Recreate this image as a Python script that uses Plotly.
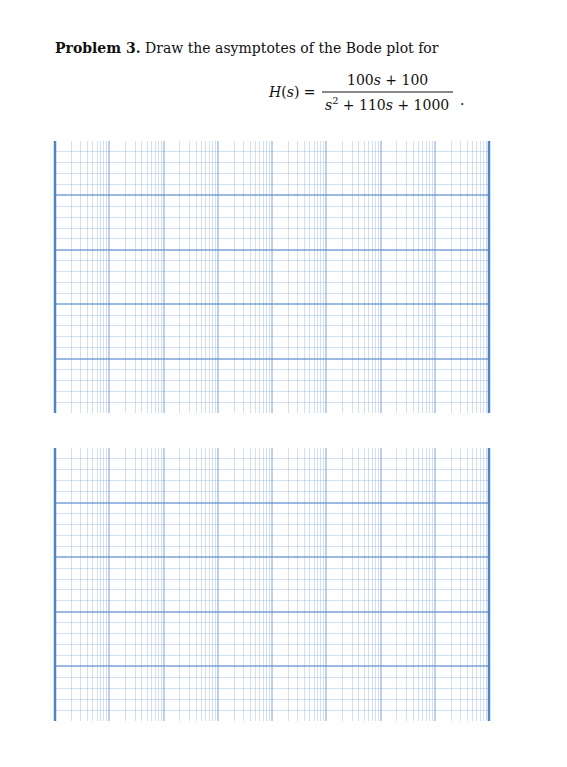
import plotly.graph_objects as go
from plotly.subplots import make_subplots

decades = [1, 1e8]          # 8 decades of frequency
y_range = [0, 5]            # 5 major divisions
y_major = 1
y_minor = 0.2

W, H = 567, 767
O = 8  # page body margin offset
L, R = 55 - O, 489 - O
fig = make_subplots(rows=2, cols=1, vertical_spacing=0.05)
grid_minor = "rgba(120,160,215,0.33)"
grid_xmajor = "rgba(110,150,210,0.45)"
grid_ymajor = "rgba(90,140,205,0.6)"
for r in (1, 2):
    fig.add_trace(go.Scatter(x=decades, y=y_range, mode="markers",
                             marker=dict(opacity=0), hoverinfo="skip",
                             showlegend=False), row=r, col=1)
    fig.update_xaxes(type="log", range=[0, 8], dtick=1, showticklabels=False,
                     showgrid=True, gridcolor=grid_xmajor, gridwidth=1.5,
                     minor=dict(dtick="D1", showgrid=True, gridcolor=grid_minor, gridwidth=1),
                     showline=False, zeroline=False, row=r, col=1)
    fig.update_yaxes(range=y_range, dtick=y_major, showticklabels=False,
                     showgrid=True, gridcolor=grid_ymajor, gridwidth=1.5,
                     minor=dict(dtick=y_minor, showgrid=True, gridcolor=grid_minor, gridwidth=1),
                     showline=False, zeroline=False, row=r, col=1)

def px(x): return (x - O) / W
def py(y): return 1 - (y - O) / H

font = dict(family="DejaVu Serif, Liberation Serif, serif", size=14, color="#111")
fig.add_annotation(x=px(53), y=py(48), xref="paper", yref="paper", xanchor="left", yanchor="middle",
                   text="<b>Problem 3.</b> Draw the asymptotes of the Bode plot for",
                   showarrow=False, font=font)
fig.add_annotation(x=px(318), y=py(92), xref="paper", yref="paper", xanchor="right", yanchor="middle",
                   text="<i>H</i>(<i>s</i>) =", showarrow=False, font=font)
fig.add_annotation(x=px(387), y=py(80), xref="paper", yref="paper", xanchor="center", yanchor="middle",
                   text="100<i>s</i> + 100", showarrow=False, font=font)
fig.add_annotation(x=px(387), y=py(104), xref="paper", yref="paper", xanchor="center", yanchor="middle",
                   text="<i>s</i><sup>2</sup> + 110<i>s</i> + 1000", showarrow=False, font=font)
fig.add_annotation(x=px(458), y=py(100), xref="paper", yref="paper", xanchor="left", yanchor="middle",
                   text=".", showarrow=False, font=font)
fig.add_shape(type="line", xref="paper", yref="paper", x0=px(322), x1=px(453),
              y0=py(92), y1=py(92), line=dict(color="#111", width=1))
for (y0, y1) in ((141, 413), (448, 721)):
    for x in (55, 489):
        fig.add_shape(type="line", xref="paper", yref="paper", x0=px(x), x1=px(x),
                      y0=py(y0), y1=py(y1), line=dict(color="#4f86c6", width=2.5))

fig.update_layout(width=W, height=H, margin=dict(l=0, r=0, t=0, b=0),
                  plot_bgcolor="white", paper_bgcolor="white")
fig.update_layout(xaxis=dict(domain=[px(55), px(489)]), xaxis2=dict(domain=[px(55), px(489)]),
                  yaxis=dict(domain=[py(413), py(141)]), yaxis2=dict(domain=[py(721), py(448)]))
fig.write_html("out.html")
